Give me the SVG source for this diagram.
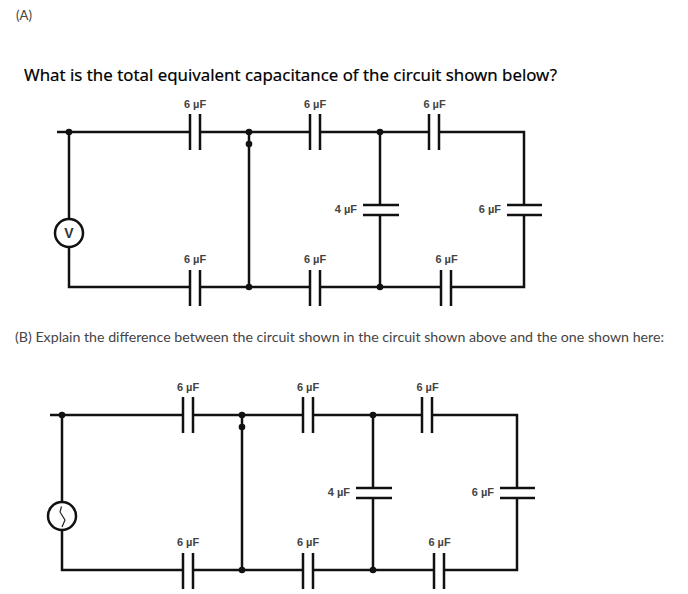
<svg xmlns="http://www.w3.org/2000/svg" width="688" height="594" viewBox="0 0 688 594">
<style>
text{font-family:"Lato","Liberation Sans",sans-serif;fill:#444}
.t{font-family:"Noto Sans","Open Sans",sans-serif;font-size:17px;font-weight:400;fill:#000;stroke:#000;stroke-width:.2}
.l{font-family:"Liberation Sans",sans-serif;font-size:11px;font-weight:bold;fill:#444;text-anchor:middle}
.e{font-family:"Liberation Sans",sans-serif;font-size:11px;font-weight:bold;fill:#444;text-anchor:end}
.v{font-family:"Liberation Sans",sans-serif;font-size:14px;font-weight:bold;fill:#333;text-anchor:middle}
.w{fill:none;stroke:#111;stroke-width:2.500;stroke-linecap:butt}
.p{fill:none;stroke:#111;stroke-width:2.500}
.d{fill:#111}
.s{fill:#fff;stroke:#111;stroke-width:2.500}
</style>
<defs>
<g id="a">
<g class="conn">
<path class="w" d="M57 132H190M200 132H310M320 132H429M439 132H524V205M524 215V287H451M441 287H320M310 287H200M190 287H69V247M69 219V132M249 132V287M380 132V205M380 215V287"/>
<circle class="d" cx="69" cy="132" r="3.300"/>
<circle class="d" cx="249" cy="132" r="3.300"/>
<circle class="d" cx="249" cy="144" r="3.300"/>
<circle class="d" cx="380" cy="132" r="3.300"/>
<circle class="d" cx="249" cy="287" r="3.300"/>
<circle class="d" cx="380" cy="287" r="3.300"/>
</g>
<g><path class="p" d="M190 114V150M200 114V150"/><text class="l" x="195" y="108">6 µF</text></g>
<g><path class="p" d="M310 114V150M320 114V150"/><text class="l" x="315" y="108">6 µF</text></g>
<g><path class="p" d="M429 114V150M439 114V150"/><text class="l" x="434.500" y="108">6 µF</text></g>
<g><path class="p" d="M190 270V306M200 270V306"/><text class="l" x="195" y="263">6 µF</text></g>
<g><path class="p" d="M310 270V306M320 270V306"/><text class="l" x="315" y="263">6 µF</text></g>
<g><path class="p" d="M441 270V306M451 270V306"/><text class="l" x="446.500" y="263">6 µF</text></g>
<g><path class="p" d="M363 205H399M363 215H399"/><text class="e" x="357" y="213">4 µF</text></g>
<g><path class="p" d="M507 205H542M507 215H542"/><text class="e" x="501" y="213">6 µF</text></g>
</g>
</defs>
<text x="16" y="20" font-size="13" textLength="16" lengthAdjust="spacingAndGlyphs">(A)</text>
<text class="t" x="24" y="80.500" textLength="533" lengthAdjust="spacingAndGlyphs">What is the total equivalent capacitance of the circuit shown below?</text>
<text x="15" y="342" font-size="14" textLength="649" lengthAdjust="spacingAndGlyphs">(B) Explain the difference between the circuit shown in the circuit shown above and the one shown here:</text>
<g id="circuit-a">
<use href="#a"/>
<g id="source-v"><circle class="s" cx="69" cy="233" r="14"/><text class="v" x="69" y="238">V</text></g>
</g>
<g id="circuit-b" transform="translate(-7 283)">
<use href="#a"/>
<g id="source-ac"><circle class="s" cx="69" cy="233" r="14"/><path d="M68.500 223.500L67 229L72 237L69 244" fill="none" stroke="#222" stroke-width="1.200"/></g>
</g>
</svg>
